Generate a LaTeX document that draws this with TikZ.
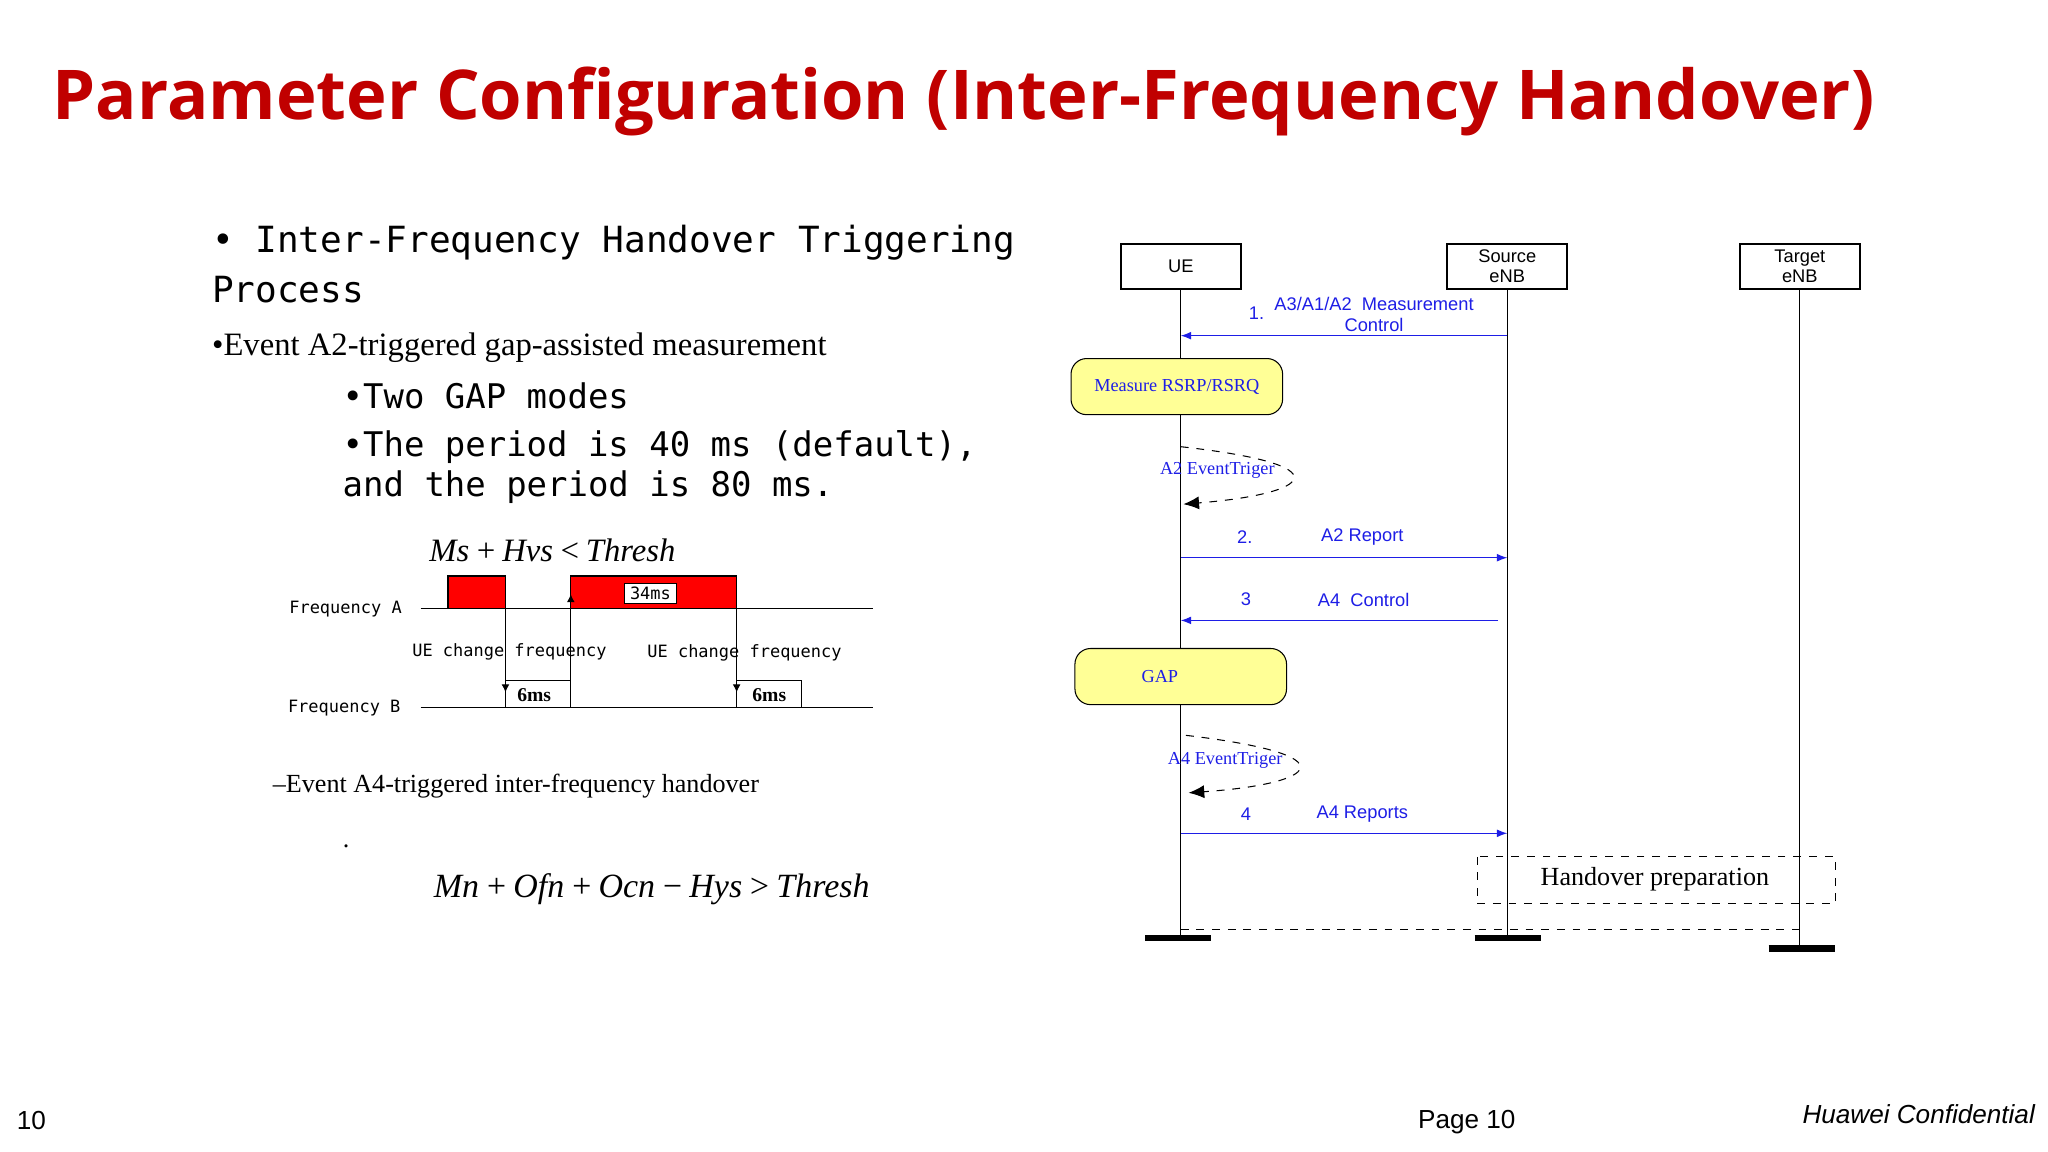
\documentclass[tikz,border=0pt]{standalone}
\usepackage{fontspec}
\setmainfont{Liberation Serif}
\newfontfamily\ttl{Open Sans}
\newfontfamily\mono{DejaVu Sans Mono}
\newfontfamily\sans{Liberation Sans}
\usetikzlibrary{arrows.meta}
\definecolor{tred}{RGB}{192,0,0}
\definecolor{sblue}{RGB}{30,30,230}
\definecolor{yel}{RGB}{255,255,150}
\begin{document}
\begin{tikzpicture}[x=0.5pt,y=-0.5pt,
  lbl/.style={font=\sans\fontsize{7}{8}\selectfont,text=sblue,inner sep=0},
  actor/.style={draw,thick,minimum width=46pt,minimum height=17pt,font=\sans\fontsize{7}{7.5}\selectfont,align=center,inner sep=0},
  msg/.style={sblue,-{Latex[length=4pt]}},
  act/.style={draw,fill=yel,rounded corners=6pt,minimum width=81pt,minimum height=21.5pt,font=\fontsize{7}{8}\selectfont,text=sblue},
  loop/.style={dashed,-{Latex[length=6pt,width=5pt]}},
  bar/.style={line width=2.5pt},
  ftext/.style={font=\mono\fontsize{6.5}{7}\selectfont,inner sep=0}]
\useasboundingbox (0,0) rectangle (1568,882);
\fill[white] (0,0) rectangle (1568,882);
% title
\node[anchor=west,text=tred,font=\ttl\bfseries\fontsize{26.3}{30}\selectfont,inner sep=0] (title) at (40,78) {Parameter Configuration (Inter-Frequency Handover)};
% left text
\node[anchor=north west,align=left,font=\mono\fontsize{13.8}{19}\selectfont,inner sep=0] (h1) at (162,172) {• Inter-Frequency Handover Triggering\\Process};
\node[anchor=west,font=\fontsize{12.5}{14}\selectfont,inner sep=0] (e1) at (162,266) {•Event A2-triggered gap-assisted measurement};
\node[anchor=west,font=\mono\fontsize{13}{15}\selectfont,inner sep=0] (g1) at (262,303) {•Two GAP modes};
\node[anchor=north west,align=left,font=\mono\fontsize{13}{15.5}\selectfont,inner sep=0] (g2) at (262,329) {•The period is 40 ms (default),\\and the period is 80 ms.};
\node[font=\itshape\fontsize{12.5}{14}\selectfont,inner sep=0] (f1) at (423,421) {Ms\,+\,Hvs\,<\,Thresh};
% timing diagram
\fill[white] (210,430) rectangle (692,568);
\draw (322,466) coordinate (a0) -- (668,466) coordinate (a1);
\draw (322,542) coordinate (b0) -- (668,542) coordinate (b1);
\node[ftext,anchor=east] (fa) at (308,466) {Frequency A};
\node[ftext,anchor=east] (fb) at (307,542) {Frequency B};
\draw[fill=red] (343,466) rectangle (387,441);
\draw[fill=red] (437,466) rectangle (564,441);
\node[draw,fill=white,ftext,minimum width=20pt,minimum height=7.5pt] (m34) at (498,454.5) {34ms};
\draw[-{Latex[length=3pt,width=3pt]}] (387,466) coordinate (v1) -- (387,530);
\draw[-{Latex[length=3pt,width=3pt]}] (437,542) coordinate (v2) -- (437,455);
\draw[-{Latex[length=3pt,width=3pt]}] (564,466) coordinate (v3) -- (564,530);
\draw (387,542) rectangle (437,521);
\draw (564,542) rectangle (614,521);
\node[font=\bfseries\fontsize{7.5}{8}\selectfont,inner sep=0] (s1) at (409,532) {6ms};
\node[font=\bfseries\fontsize{7.5}{8}\selectfont,inner sep=0] (s2) at (589,532) {6ms};
\node[ftext] (u1) at (390,499) {UE change frequency};
\node[ftext] (u2) at (570,500) {UE change frequency};
\node[font=\fontsize{10}{12}\selectfont,inner sep=0] (e2) at (395,602) {–Event A4-triggered inter-frequency handover};
\node[inner sep=0] (dot) at (265,648) {.};
\node[font=\itshape\fontsize{13}{15}\selectfont,inner sep=0] (f2) at (499,681) {Mn\,+\,Ofn\,+\,Ocn\,−\,Hys\,>\,Thresh};
% sequence diagram
\fill[white] (810,176) rectangle (1452,744);
\node[actor] (ue) at (904,204) {UE};
\node[actor] (src) at (1154,204) {Source\\eNB};
\node[actor] (tgt) at (1378,204) {Target\\eNB};
\coordinate (ueE) at (904,718); \coordinate (srcE) at (1154,718); \coordinate (tgtE) at (1378,726);
\draw (ue) -- (ueE); \draw (src) -- (srcE); \draw (tgt) -- (tgtE);
\draw[bar] (877,718) -- (927,718);
\draw[bar] (1129,718) -- (1180,718);
\draw[bar] (1354,726) -- (1405,726);
\draw[dashed] (904,712) -- (1378,712);
% msg 1
\draw[msg] (1154,257) -- (904,257);
\node[lbl] (l1) at (962,240) {1.};
\node[lbl,align=center] (l1b) at (1052,241) {A3/A1/A2\ \ Measurement\\Control};
\node[act] (meas) at (901,296) {Measure RSRP/RSRQ};
\draw[loop] (904,342) .. controls (1030,356) and (1005,378) .. (906,386);
\node[font=\fontsize{7}{8}\selectfont,text=sblue,inner sep=0] (a2e) at (932,360) {A2 EventTriger};
\draw[msg] (904,427) -- (1154,427);
\node[lbl] (l2) at (953,411) {2.};
\node[lbl] (l2b) at (1043,411) {A2 Report};
\draw[msg] (1147,475) -- (904,475);
\node[lbl] (l3) at (954,459) {3};
\node[lbl] (l3b) at (1044,459) {A4\ \ Control};
\node[act] (gap) at (904,518) {\hspace*{-16pt}GAP};
\draw[loop] (908,563) .. controls (1035,578) and (1010,600) .. (910,607);
\node[font=\fontsize{7}{8}\selectfont,text=sblue,inner sep=0] (a4e) at (938,582) {A4 EventTriger};
\draw[msg] (904,638) -- (1154,638);
\node[lbl] (l4) at (954,623) {4};
\node[lbl] (l4b) at (1043,623) {A4 Reports};
\draw[dashed] (1131,656) rectangle (1405,692);
\node[font=\fontsize{10}{12}\selectfont,inner sep=0] (hp) at (1267,673) {Handover preparation};
% footer
\node[font=\sans\fontsize{10}{12}\selectfont,inner sep=0] (pn) at (24,858) {10};
\node[font=\sans\fontsize{10}{12}\selectfont,inner sep=0] (pg) at (1123,859) {Page 10};
\node[font=\sans\itshape\fontsize{10}{12}\selectfont,inner sep=0] (hc) at (1469,853) {Huawei Confidential};
\end{tikzpicture}
\end{document}
